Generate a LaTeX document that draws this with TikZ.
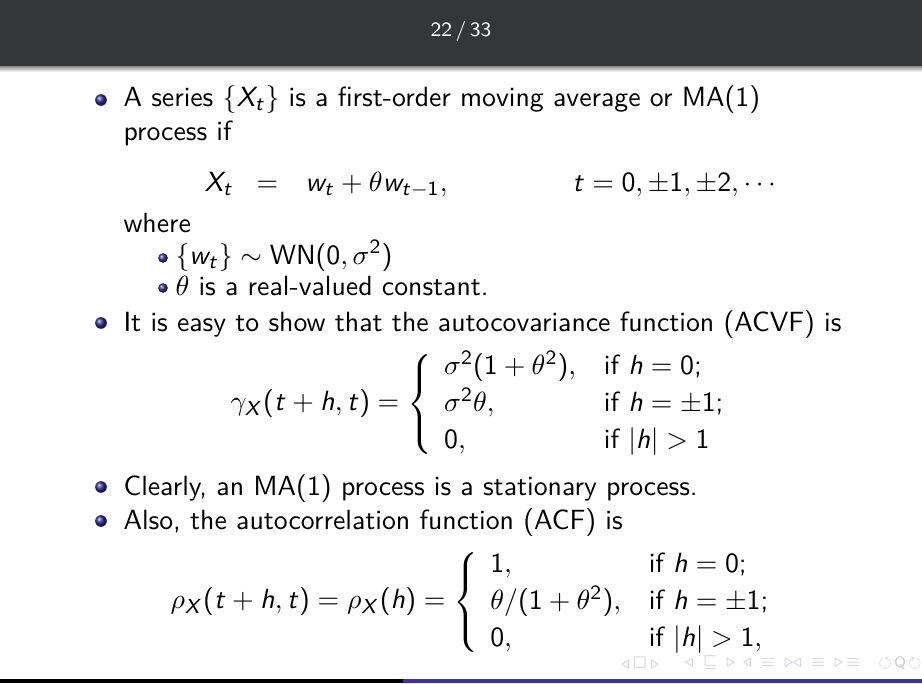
\documentclass[tikz,11pt,border=0pt]{standalone}
\usepackage{amsmath,amssymb}
\DeclareSymbolFont{operators}{OT1}{cmss}{m}{n}
\DeclareSymbolFont{sfit}{OT1}{cmss}{m}{sl}
\DeclareMathSymbol{X}{\mathalpha}{sfit}{`X}
\DeclareMathSymbol{t}{\mathalpha}{sfit}{`t}
\DeclareMathSymbol{w}{\mathalpha}{sfit}{`w}
\DeclareMathSymbol{h}{\mathalpha}{sfit}{`h}
\DeclareMathSymbol{0}{\mathalpha}{operators}{`0}
\DeclareMathSymbol{1}{\mathalpha}{operators}{`1}
\DeclareMathSymbol{2}{\mathalpha}{operators}{`2}
\usetikzlibrary{shadings}
\definecolor{hdr}{HTML}{33373A}
\definecolor{navblue}{HTML}{3333B3}
\definecolor{navic}{HTML}{C8C8EA}
\tikzset{
  txt/.style={anchor=base west,inner sep=0pt,font=\sffamily},
  bul/.style={circle,inner sep=0pt,minimum size=4.6pt,shading=ball,ball color=navblue!85!black},
  subbul/.style={circle,inner sep=0pt,minimum size=3.8pt,shading=ball,ball color=navblue!85!black},
  nav/.style={inner sep=0pt,font=\tiny\sffamily,text=navic}
}
\begin{document}
\begin{tikzpicture}[x=0.39417pt,y=-0.39417pt]
\useasboundingbox (0,0) rectangle (922,683);
\fill[white] (0,0) rectangle (922,683);
% header
\fill[hdr] (0,0) rectangle (922,66);
\shade[top color=black!45,bottom color=white] (0,66) rectangle (922,72);
\node[inner sep=0pt,font=\scriptsize\sffamily,text=white] (pg) at (461,31) {22\,/\,33};
% bottom bar
\fill[black] (0,679) rectangle (403,683);
\fill[navblue] (403,679) rectangle (922,683);
% bullets
\node[bul] (b1) at (101,100) {};
\node[txt] (t1) at (123,106) {A series $\{X_t\}$ is a first-order moving average or MA(1)};
\node[txt] (t2) at (123,140) {process if};
\node[txt] (e1a) at (204,191) {$X_t$};
\node[txt] (e1b) at (256,191) {$=$};
\node[txt] (e1c) at (305,191) {$w_t+\theta w_{t-1},$};
\node[txt] (e1d) at (572,191) {$t=0,\pm1,\pm2,\cdots$};
\node[txt] (t3) at (123,232) {where};
\node[subbul] (s1) at (163,258) {};
\node[txt] (t4) at (175,264) {$\{w_t\}\sim\mathrm{WN}(0,\sigma^2)$};
\node[subbul] (s2) at (163,288) {};
\node[txt] (t5) at (175,295) {$\theta$ is a real-valued constant.};
\node[bul] (b2) at (101,323) {};
\node[txt] (t6) at (123,331) {It is easy to show that the autocovariance function (ACVF) is};
\node[anchor=west,inner sep=0pt,font=\sffamily] (e2) at (230,404) {\renewcommand{\arraystretch}{1.07}$\displaystyle \gamma_X(t+h,t)=\left\{\;\begin{array}{@{\,}l@{\quad}l}\sigma^2(1+\theta^2), & \text{if } h=0;\\ \sigma^2\theta, & \text{if } h=\pm1;\\ 0, & \text{if } |h|>1\end{array}\right.$};
\node[bul] (b3) at (101,487) {};
\node[txt] (t7) at (123,495) {Clearly, an MA(1) process is a stationary process.};
\node[bul] (b4) at (101,521) {};
\node[txt] (t8) at (123,529) {Also, the autocorrelation function (ACF) is};
\node[anchor=west,inner sep=0pt,font=\sffamily] (e3) at (170,602) {\renewcommand{\arraystretch}{1.07}$\displaystyle \rho_X(t+h,t)=\rho_X(h)=\left\{\;\begin{array}{@{\,}l@{\quad}l}1, & \text{if } h=0;\\ \theta/(1+\theta^2), & \text{if } h=\pm1;\\ 0, & \text{if } |h|>1,\end{array}\right.$};
% navigation symbols
\node[nav] (n1) at (640,663) {$\triangleleft\,\square\,\triangleright$};
\node[nav] (n2) at (710,663) {$\triangleleft\,\sqsubseteq\,\triangleright$};
\node[nav] (n3) at (768,663) {$\triangleleft\,\equiv\,\triangleright$};
\node[nav] (n4) at (818,663) {$\triangleleft\,\equiv\,\triangleright$};
\node[nav] (n5) at (853,663) {$\equiv$};
\node[nav] (n6) at (900,663) {$\circlearrowleft\!\mathsf{Q}\!\circlearrowright$};
\end{tikzpicture}
\end{document}
